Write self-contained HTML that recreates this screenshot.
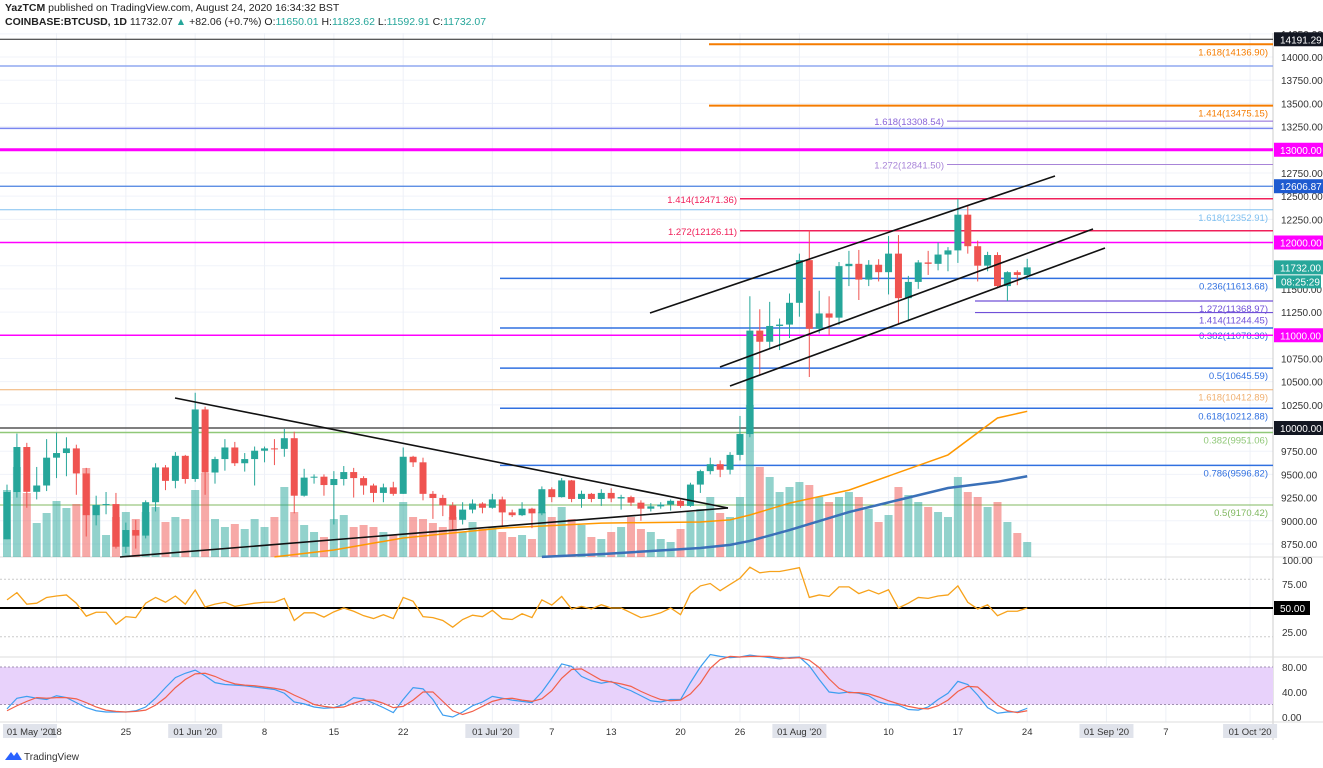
<!DOCTYPE html>
<html><head><meta charset="utf-8">
<style>
html,body{margin:0;padding:0;background:#fff;width:1323px;height:768px;overflow:hidden;font-family:"Liberation Sans",sans-serif;}
svg text{font-family:"Liberation Sans",sans-serif;}
</style></head>
<body>
<svg id="chart" width="1323" height="768" viewBox="0 0 1323 768" xmlns="http://www.w3.org/2000/svg">
<text x="5" y="11" font-size="10.5" fill="#222"><tspan font-weight="bold">YazTCM</tspan> published on TradingView.com, August 24, 2020 16:34:32 BST</text>
<text x="5" y="25" font-size="10.5" fill="#222"><tspan font-weight="bold">COINBASE:BTCUSD, 1D</tspan> 11732.07 <tspan fill="#26a69a">▲</tspan> +82.06 (+0.7%) O:<tspan fill="#26a69a">11650.01</tspan> H:<tspan fill="#26a69a">11823.62</tspan> L:<tspan fill="#26a69a">11592.91</tspan> C:<tspan fill="#26a69a">11732.07</tspan></text>
<g id="grid"></g>
<g id="levels"></g>
<g id="vol"></g>
<g id="ma"></g>
<g id="candles"></g>
<g id="trend"></g>
<g id="axis"></g>
<g id="rsi"></g>
<g id="stoch"></g>
<g id="time"></g>
<g><path d="M5 760 L11 752 L14 756 L17 752 L22 760 Z" fill="#2962ff"/><text x="24" y="760" font-size="10" fill="#333">TradingView</text></g>
</svg>
<script>
const closes=[9310,9795,9312,9380,9680,9730,9780,9510,9060,9170,9180,8720,8900,8840,9200,9575,9430,9700,9450,
10200,9520,9665,9790,9620,9665,9755,9780,9775,9890,9270,9465,9475,9385,9450,9525,9460,9380,9300,9360,9290,9690,9630,9290,9245,9165,9010,9120,9185,9140,
9230,9090,9060,9130,9080,9340,9255,9435,9235,9290,9235,9300,9240,9255,9195,9130,9155,9175,9215,9160,9390,9535,9610,9550,9710,9935,11050,10930,11100,11115,11350,
11810,11070,11235,11190,11745,11770,11600,11760,11680,11880,11400,11575,11785,11770,11870,11915,12300,11960,11750,11865,11530,11680,11650,11732];
const firstOpen=8800;
const highs=[9390,9940,9840,9580,9880,9950,9900,9820,9570,9270,9310,9300,8980,9010,9220,9620,9600,9740,9710,
10380,10230,9690,9880,9850,9730,9800,9800,9880,9990,9960,9560,9500,9500,9535,9590,9570,9480,9400,9400,9420,9790,9700,9680,9320,9280,9200,9200,9230,9200,
9290,9260,9120,9200,9140,9370,9360,9460,9440,9325,9300,9340,9350,9280,9270,9220,9190,9200,9230,9230,9410,9550,9680,9650,9740,10130,11420,11280,11360,11180,11450,
11880,12130,11480,11420,11790,11910,11920,11810,11820,12070,12080,11640,11810,11910,12000,11950,12470,12400,12020,11900,11895,11690,11700,11824];
const lows=[8800,9250,9140,9230,9320,9460,9480,9280,8830,8950,9070,8700,8650,8700,8810,9100,9330,9350,9400,
9420,9280,9400,9540,9590,9530,9380,9630,9600,9690,9080,9260,9400,9270,8960,9380,9250,9280,9200,9200,9270,9290,9580,9220,9020,9050,8890,8960,9080,9080,
9130,8940,9040,9050,8920,9060,9200,9250,9200,9140,9200,9160,9200,9120,9160,9000,9100,9130,9110,9140,9150,9300,9500,9470,9500,9650,9900,10570,10850,10840,10970,
11200,10550,11020,11000,11110,11530,11380,11530,11580,11440,11120,11150,11500,11650,11700,11690,11780,11880,11580,11690,11520,11370,11540,11593];
const volumes=[67,90,64,34,44,56,49,53,89,52,22,40,45,38,45,50,35,40,38,
67,84,38,30,33,28,38,30,40,70,45,32,25,20,38,42,30,32,30,25,22,55,40,38,34,30,40,25,35,28,
30,25,20,22,18,45,40,50,38,32,20,18,25,30,40,28,25,18,15,28,45,48,60,44,40,60,152,90,80,65,70,
75,72,60,55,60,65,60,48,35,42,70,62,55,50,45,40,80,65,60,50,55,35,24,15];
const rsiVals=[58.5,66,54,55,61,62.5,63.6,55,41.5,45.6,45.6,33,41,40,55,61,56,62.5,54,
68.7,51,54,56,51.7,53.4,55,56,56,60,37,45,45,40.5,46,50,46.6,42,39,43,39,61,57,41,40,37,30,38,42.5,41,
47.6,39,38,44,40,58.5,53,62,49,51.7,49,53.4,50,50,45,40,42,45,50,43,65,73,75.5,68,74.5,81,92.5,86.7,88,88,90,
92,61,63.6,62,72,72,65,68.7,64.6,69,50,55,61,60,62.5,63.6,73,56,49,53.4,42,46.6,46.6,50];
const stochK=[13,30,33,30,28,34,31,23,15,10,8,8,8,10,16,30,47,63,70,
75,66,55,52,51,50,48,46,44,38,24,21,16,14,15,20,31,29,22,15,7,28,47,45,28,3,0,8,18,24,
33,30,27,25,23,40,62,85,81,65,58,54,57,48,42,34,26,24,28,28,55,80,100,97,95,96,99,97,95,93,95,
96,82,60,40,38,40,38,34,24,20,19,12,11,16,28,38,57,52,35,15,6,8,8,14];
const stochD=[10,18,25,31,30,31,31,29,23,16,11,9,8,9,11,19,31,47,60,
69,70,65,58,53,51,50,48,46,43,35,28,20,17,15,16,22,27,27,22,15,17,27,40,40,25,10,4,9,17,
25,29,30,27,25,29,42,62,76,77,68,59,56,53,49,41,34,28,26,27,37,54,78,92,97,96,97,97,97,95,94,
95,91,79,61,46,39,39,37,32,26,21,17,14,13,18,27,41,49,48,34,19,10,7,10];
const ma50Days=[27,33,40,50,60,70,73,75,79,85,95,100,103];
const ma50Vals=[8610,8685,8814,8922,8975,8987,9010,9062,9190,9330,9710,10108,10180];
const ma200Days=[54,60,70,73,75,79,85,90,95,100,103];
const ma200Vals=[8610,8640,8706,8740,8782,8900,9094,9224,9353,9420,9480];
const levelPrices=[14191.29,14136.90,13903,13475.15,13308.54,13230,13000,12841.50,12606.87,12471.36,12352.91,12126.11,12000,11613.68,11368.97,11244.45,11078.30,11000,10645.59,10412.89,10212.88,10000,9951.06,9596.82,9170.42];
const levelTags=["","1.618","","1.414","1.618","","","1.272","","1.414","1.618","1.272","","0.236","1.272","1.414","0.382","","0.5","1.618","0.618","","0.382","0.786","0.5"];
const levelStyle=[["#222",1,0,""],["#f57c00",2,709,"r"],["#90a8f0",1.5,0,""],["#f57c00",2,709,"r"],["#8a64d8",1,947,"l"],["#7a86f0",1.5,0,""],["#ff00ff",3,0,""],["#a884d8",1,947,"l"],["#4a80e0",1.2,0,""],["#f0205a",1.5,740,"l"],["#80c0f0",1,0,"r"],["#f0205a",1.5,740,"l"],["#ff00ff",1.5,0,""],["#3070e0",1.5,500,"r"],["#7050d8",1.2,975,"r"],["#7050d8",1.2,975,"r"],["#3070e0",1.5,500,"r"],["#ff00ff",1.5,0,""],["#3070e0",1.5,500,"r"],["#f0b070",1,0,"r"],["#3070e0",1.5,500,"r"],["#555",1.5,0,""],["#90c878",1.5,0,"r"],["#3070e0",1.5,500,"r"],["#80b860",1,0,"r"]];
const axisTicks=[14250,14000,13750,13500,13250,12750,12500,12250,11750,11500,11250,10750,10500,10250,9750,9500,9250,9000,8750];
const boxLabels=[[14191.29,"#131722"],[13000,"#ff00ff"],[12606.87,"#1e5bd0"],[12000,"#ff00ff"],[11000,"#ff00ff"],[10000,"#131722"]];
const dateTicks=[[-12,"01 May '20",1],[5,"18",0],[12,"25",0],[19,"01 Jun '20",1],[26,"8",0],[33,"15",0],[40,"22",0],[49,"01 Jul '20",1],[55,"7",0],[61,"13",0],[68,"20",0],[74,"26",0],[80,"01 Aug '20",1],[89,"10",0],[96,"17",0],[103,"24",0],[111,"01 Sep '20",1],[117,"7",0],[125.5,"01 Oct '20",1]];

const NS="http://www.w3.org/2000/svg";
const PR=1273;
function X(d){return 7+d*9.905;}
function Y(p){return 428-(p-10000)*0.09275;}
function Yr(v){return 608-(v-50)*0.96;}
function Ys(v){return 717-v*0.625;}
function Yv(v){return 557-v*1.0;}
function mk(par,tag,attrs){const e=document.createElementNS(NS,tag);for(const k in attrs)e.setAttribute(k,attrs[k]);document.getElementById(par).appendChild(e);return e;}

// grid
for(let p=8750;p<=14250;p+=250){const l=mk('grid','line',{x1:0,x2:PR,y1:Y(p),y2:Y(p),stroke:'#f0f3fa','stroke-width':1});

}
dateTicks.forEach(t=>{const l=mk('grid','line',{x1:X(t[0]),x2:X(t[0]),y1:33,y2:722,stroke:'#eef1f7','stroke-width':1});

});
const bd=mk('grid','line',{x1:PR,x2:PR,y1:33,y2:740,stroke:'#ccc'});


[557,657,722].forEach(y=>{const l=mk('grid','line',{x1:0,x2:1323,y1:y,y2:y,stroke:'#ddd'});

});

// levels
levelPrices.forEach((p,i)=>{const s=levelStyle[i];const y=Y(p);
const l=mk('levels','line',{x1:s[2],x2:PR,y1:y,y2:y,stroke:s[0],'stroke-width':s[1]});


if(levelTags[i]){const txt=levelTags[i]+"("+p.toFixed(2)+")";let t;
if(s[3]==='l'){t=mk('levels','text',{x:s[2]-3,y:y+4,'text-anchor':'end','font-size':9.5,fill:s[0]});}
else{t=mk('levels','text',{x:PR-5,y:y+11,'text-anchor':'end','font-size':9.5,fill:s[0]});}
t.textContent=txt;

}});

// volume
closes.forEach((c,i)=>{const o=i?closes[i-1]:firstOpen;const up=c>=o;const x=X(i);
const r=mk('vol','rect',{x:x-4,y:Yv(volumes[i]),width:8,height:557-Yv(volumes[i]),fill:up?'rgba(38,166,154,0.5)':'rgba(239,83,80,0.5)'});

});

// MAs
function poly(par,pts,col,w,name){const p=mk(par,'polyline',{points:pts.join(' '),fill:'none',stroke:col,'stroke-width':w});

return p;}
poly('ma',ma50Days.map((d,i)=>X(d)+','+Y(ma50Vals[i])),'#ff9800',1.5,'ma-50-line');
poly('ma',ma200Days.map((d,i)=>X(d)+','+Y(ma200Vals[i])),'#3a70b8',2.5,'ma-200-line');

// candles
closes.forEach((c,i)=>{const o=i?closes[i-1]:firstOpen;const up=c>=o;const col=up?'#26a69a':'#ef5350';const x=X(i);
const w=mk('candles','line',{x1:x,x2:x,y1:Y(highs[i]),y2:Y(lows[i]),stroke:col,'stroke-width':1});


const top=Y(Math.max(o,c)),h=Math.max(1,Y(Math.min(o,c))-top);
const b=mk('candles','rect',{x:x-3.5,y:top,width:7,height:h,fill:col});

});

// trendlines
[[650,313,1055,176],[720,367,1093,229],[730,386,1105,248],[175,398,728,508],[120,557,728,508]].forEach(t=>{
const l=mk('trend','line',{x1:t[0],y1:t[1],x2:t[2],y2:t[3],stroke:'#111','stroke-width':1.6});

});

// axis
axisTicks.forEach(p=>{const t=mk('axis','text',{x:1281,y:Y(p)+4,'font-size':10,fill:'#333'});t.textContent=p.toFixed(2);

});
boxLabels.forEach(b=>{const y=Y(b[0]);const r=mk('axis','rect',{x:1274,y:y-7,width:49,height:14,fill:b[1]});


const t=mk('axis','text',{x:1280,y:y+4,'font-size':10,fill:'#fff'});t.textContent=b[0].toFixed(2);

});
{const y=Y(closes[closes.length-1]);const r=mk('axis','rect',{x:1274,y:y-7,width:49,height:14,fill:'#26a69a'});


const r2=mk('axis','rect',{x:1276,y:y+8,width:45,height:13,fill:'#26a69a'});


const t=mk('axis','text',{x:1280,y:y+4,'font-size':10,fill:'#fff'});t.textContent=closes[closes.length-1].toFixed(2);


const t2=mk('axis','text',{x:1281,y:y+18,'font-size':10,fill:'#fff'});t2.textContent='08:25:29';

}

// RSI
[80,20].forEach(v=>{const l=mk('rsi','line',{x1:0,x2:PR,y1:Yr(v),y2:Yr(v),stroke:'#ccc','stroke-dasharray':'2,2'});

});
{const l=mk('rsi','line',{x1:0,x2:PR,y1:Yr(50),y2:Yr(50),stroke:'#000','stroke-width':2});

}
poly('rsi',rsiVals.map((v,i)=>X(i)+','+Yr(v)),'#f7a21b',1.3,'rsi-line');
[[100,"100.00"],[75,"75.00"],[25,"25.00"]].forEach(a=>{const t=mk('rsi','text',{x:1282,y:Yr(a[0])+4,'font-size':10,fill:'#333'});t.textContent=a[1];

});
{const r=mk('rsi','rect',{x:1274,y:Yr(50)-7,width:36,height:14,fill:'#000'});


const t=mk('rsi','text',{x:1280,y:Yr(50)+4,'font-size':10,fill:'#fff'});t.textContent='50.00';

}

// Stoch RSI
{const r=mk('stoch','rect',{x:0,y:Ys(80),width:PR,height:Ys(20)-Ys(80),fill:'#e8d2fb'});

}
[80,20].forEach(v=>{const l=mk('stoch','line',{x1:0,x2:PR,y1:Ys(v),y2:Ys(v),stroke:'#a090b0','stroke-dasharray':'2,2'});

});
poly('stoch',stochK.map((v,i)=>X(i)+','+Ys(v)),'#3d9ef0',1.2,'stoch-k-line');
poly('stoch',stochD.map((v,i)=>X(i)+','+Ys(v)),'#f2604a',1.2,'stoch-d-line');
[[80,"80.00"],[40,"40.00"],[0,"0.00"]].forEach(a=>{const t=mk('stoch','text',{x:1282,y:Ys(a[0])+4,'font-size':10,fill:'#333'});t.textContent=a[1];

});

// time axis
dateTicks.forEach(t=>{let x=X(t[0]);if(x<30)x=30;
if(t[2]){const r=mk('time','rect',{x:x-27,y:724,width:54,height:14,fill:'#e0e3eb'});

}
const tx=mk('time','text',{x:x,y:735,'font-size':9.5,fill:'#333','text-anchor':'middle'});tx.textContent=t[1];

});
</script>
</body></html>
